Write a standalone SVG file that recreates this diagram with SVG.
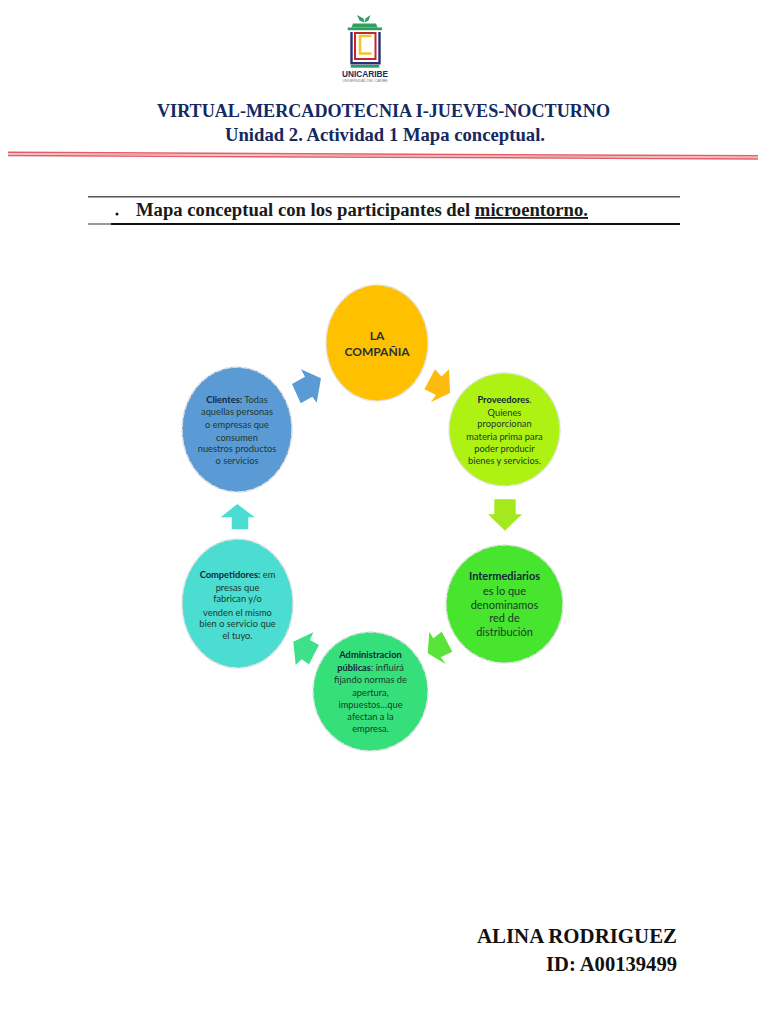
<svg xmlns="http://www.w3.org/2000/svg" width="768" height="1024" viewBox="0 0 768 1024">
<style>
.h{font-family:"Liberation Serif","Times New Roman",serif;font-weight:700}
.t{font-family:Lato,"Liberation Sans",sans-serif;font-size:9.300px;fill:#1d3a2a;text-anchor:middle}
.m{font-size:11px}
.c{font-size:12px;font-weight:700;fill:#263238}
.b{font-weight:700;fill:#12283a}
.n{stroke:#e2e2e2;stroke-width:1.5;stroke-dasharray:7 1.5}
</style>
<rect width="768" height="1024" fill="#fff"/>
<g id="logo">
<path d="M357 15L363.500 18.500 364.500 22.500 359.500 20.500ZM370.500 15L365.500 18.500 364.500 22.500 368.500 20.500Z" fill="#2f9e5f"/>
<path d="M353 23.500H376L377.500 27.500H351.500Z" fill="#2f9e5f"/>
<rect x="347.700" y="27.500" width="34.300" height="2.700" fill="#2f9e5f"/>
<path d="M351.500 32V63.300H379.500V32" fill="none" stroke="#2a2f72" stroke-width="2.400"/>
<rect x="355" y="33" width="20.500" height="26" fill="none" stroke="#c0272d" stroke-width="2"/>
<path d="M371.500 36H360V53.500H371.500" fill="none" stroke="#f4c430" stroke-width="2.600"/>
<rect x="350.700" y="65" width="28.600" height="2.700" fill="#2f9e5f"/>
<text x="365" y="77" text-anchor="middle" textLength="46" lengthAdjust="spacingAndGlyphs" style="font-family:'Liberation Sans',sans-serif;font-weight:700;font-size:8.500px;fill:#232a5c">UNICARIBE</text>
<text x="365" y="82" text-anchor="middle" textLength="45" lengthAdjust="spacingAndGlyphs" style="font-family:'Liberation Sans',sans-serif;font-size:3.500px;fill:#777">UNIVERSIDAD DEL CARIBE</text>
</g>
<g id="header">
<text class="h" x="383.500" y="117" text-anchor="middle" textLength="453" lengthAdjust="spacingAndGlyphs" font-size="19.500" fill="#14295f">VIRTUAL-MERCADOTECNIA I-JUEVES-NOCTURNO</text>
<text class="h" x="385" y="141" text-anchor="middle" textLength="320" lengthAdjust="spacingAndGlyphs" font-size="19.500" fill="#14295f">Unidad 2. Actividad 1 Mapa conceptual.</text>
<path d="M8 152.300L758 155.800M8 155.500L758 159" stroke="#ea5a64" stroke-width="1.500" fill="none"/>
<path d="M8 153.900L758 157.400" stroke="#a8202a" stroke-width=".4" fill="none"/>
</g>
<g id="subtitle">
<path d="M88 196.800H680" stroke="#555" stroke-width="1.500"/>
<path d="M88 224H111" stroke="#777" stroke-width="1.500"/>
<path d="M111 224H680" stroke="#111" stroke-width="2"/>
<circle cx="117" cy="214" r="1.500" fill="#111"/>
<text class="h" x="136" y="216" textLength="452" lengthAdjust="spacingAndGlyphs" font-size="18.500" fill="#1a1a1a">Mapa conceptual con los participantes del <tspan text-decoration="underline">microentorno.</tspan></text>
</g>
<g id="connectors">
<path d="M301 369.300L321 378.300 316.700 402.700 312.300 396.700 300.700 403.300 292 384 305 376.700Z" fill="#5b9bd5"/>
<path d="M435 369.300L441.500 376.500 449 369.300 450 393 430.700 402.300 436 395 424.300 389.300Z" fill="#fdbb10"/>
<path d="M494.300 499.300H515.700V514.300H522L505 530.700 488 514.300H494.300Z" fill="#a5e81e"/>
<path d="M427.700 653.300L429.300 631.700 433.300 638.300 441.700 631.700 452.300 651.700 440.700 657.300 446 664.300Z" fill="#5ae43a"/>
<path d="M293.300 641.700L313.300 632.300 310 640 319 645 309 664.300 301.700 659.300 295.700 665Z" fill="#3fe08a"/>
<path d="M237.300 504L254.700 517.300H248.300V529.300H231.700V517.300H220.700Z" fill="#4bddd2"/>
</g>
<g id="compania">
<ellipse class="n" cx="377" cy="343" rx="51" ry="58" fill="#ffc000"/>
<text class="t c" x="377" y="340">LA</text>
<text class="t c" x="377" y="356">COMPAÑIA</text>
</g>
<g id="proveedores">
<ellipse class="n" cx="504.500" cy="429.500" rx="55.500" ry="56.500" fill="#aef213"/>
<text class="t" x="504.500" y="402.500"><tspan class="b">Proveedores</tspan>.</text>
<text class="t" x="504.500" y="415.500">Quienes</text>
<text class="t" x="504.500" y="427">proporcionan</text>
<text class="t" x="504.500" y="440">materia prima para</text>
<text class="t" x="504.500" y="452">poder producir</text>
<text class="t" x="504.500" y="464">bienes y servicios.</text>
</g>
<g id="intermediarios">
<ellipse class="n" cx="504.500" cy="604" rx="58.500" ry="59" fill="#48e52f"/>
<text class="t m" x="504.500" y="579.500"><tspan class="b">Intermediarios</tspan></text>
<text class="t m" x="504.500" y="594.500">es lo que</text>
<text class="t m" x="504.500" y="608.500">denominamos</text>
<text class="t m" x="504.500" y="622">red de</text>
<text class="t m" x="504.500" y="636">distribución</text>
</g>
<g id="administracion">
<ellipse class="n" cx="370.500" cy="691.500" rx="57.500" ry="59.500" fill="#35e07a"/>
<text class="t" x="370.500" y="658"><tspan class="b">Administracion</tspan></text>
<text class="t" x="370.500" y="670.500"><tspan class="b">públicas</tspan>: influirá</text>
<text class="t" x="370.500" y="683">fijando normas de</text>
<text class="t" x="370.500" y="695.500">apertura,</text>
<text class="t" x="370.500" y="708">impuestos…que</text>
<text class="t" x="370.500" y="720">afectan a la</text>
<text class="t" x="370.500" y="732">empresa.</text>
</g>
<g id="competidores">
<ellipse class="n" cx="237.500" cy="603.500" rx="55.500" ry="64.500" fill="#4bddd2"/>
<text class="t" x="237.500" y="578"><tspan class="b">Competidores:</tspan> em</text>
<text class="t" x="237.500" y="590.500">presas que</text>
<text class="t" x="237.500" y="602">fabrican y/o</text>
<text class="t" x="237.500" y="615.500">venden el mismo</text>
<text class="t" x="237.500" y="627">bien o servicio que</text>
<text class="t" x="237.500" y="639">el tuyo.</text>
</g>
<g id="clientes">
<ellipse class="n" cx="237" cy="429.500" rx="55" ry="62.500" fill="#5b9bd5"/>
<text class="t" x="237" y="403"><tspan class="b">Clientes:</tspan> Todas</text>
<text class="t" x="237" y="415.300">aquellas personas</text>
<text class="t" x="237" y="428">o empresas que</text>
<text class="t" x="237" y="440.500">consumen</text>
<text class="t" x="237" y="452.300">nuestros productos</text>
<text class="t" x="237" y="464.300">o servicios</text>
</g>
<g id="footer">
<text class="h" x="477" y="943" textLength="200" lengthAdjust="spacingAndGlyphs" font-size="20.500" fill="#111">ALINA RODRIGUEZ</text>
<text class="h" x="546" y="971" textLength="131" lengthAdjust="spacingAndGlyphs" font-size="20.500" fill="#111">ID: A00139499</text>
</g>
</svg>
